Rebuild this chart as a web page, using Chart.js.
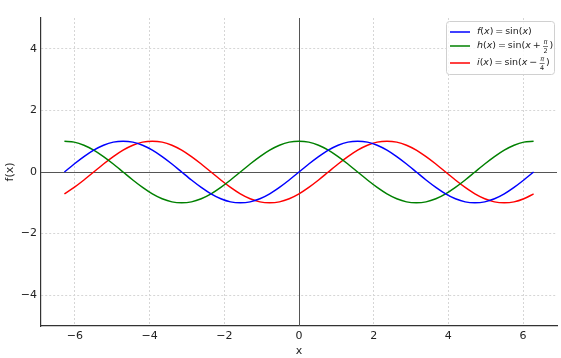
<!DOCTYPE html>
<html>
<head>
<meta charset="utf-8">
<script src="https://cdn.jsdelivr.net/npm/chart.js@4"></script>
<style>
  html, body { margin: 0; padding: 0; background: #fff; }
  #wrap { width: 561px; height: 358px; }
</style>
</head>
<body>
<div id="wrap"><canvas id="sineChart"></canvas></div>
<script>
// x positions: -2π .. 2π in steps of π/12
const xValues = [
  -6.283, -6.021, -5.760, -5.498, -5.236, -4.974, -4.712, -4.451, -4.189, -3.927, -3.665, -3.403,
  -3.142, -2.880, -2.618, -2.356, -2.094, -1.833, -1.571, -1.309, -1.047, -0.785, -0.524, -0.262,
  0, 0.262, 0.524, 0.785, 1.047, 1.309, 1.571, 1.833, 2.094, 2.356, 2.618, 2.880,
  3.142, 3.403, 3.665, 3.927, 4.189, 4.451, 4.712, 4.974, 5.236, 5.498, 5.760, 6.021, 6.283
];

const fValues = [
  0, 0.26, 0.5, 0.71, 0.87, 0.97, 1, 0.97, 0.87, 0.71, 0.5, 0.26,
  0, -0.26, -0.5, -0.71, -0.87, -0.97, -1, -0.97, -0.87, -0.71, -0.5, -0.26,
  0, 0.26, 0.5, 0.71, 0.87, 0.97, 1, 0.97, 0.87, 0.71, 0.5, 0.26,
  0, -0.26, -0.5, -0.71, -0.87, -0.97, -1, -0.97, -0.87, -0.71, -0.5, -0.26,
  0
];

const hValues = [
  1, 0.97, 0.87, 0.71, 0.5, 0.26, 0, -0.26, -0.5, -0.71, -0.87, -0.97,
  -1, -0.97, -0.87, -0.71, -0.5, -0.26, 0, 0.26, 0.5, 0.71, 0.87, 0.97,
  1, 0.97, 0.87, 0.71, 0.5, 0.26, 0, -0.26, -0.5, -0.71, -0.87, -0.97,
  -1, -0.97, -0.87, -0.71, -0.5, -0.26, 0, 0.26, 0.5, 0.71, 0.87, 0.97,
  1
];

const iValues = [
  -0.71, -0.5, -0.26, 0, 0.26, 0.5, 0.71, 0.87, 0.97, 1, 0.97, 0.87,
  0.71, 0.5, 0.26, 0, -0.26, -0.5, -0.71, -0.87, -0.97, -1, -0.97, -0.87,
  -0.71, -0.5, -0.26, 0, 0.26, 0.5, 0.71, 0.87, 0.97, 1, 0.97, 0.87,
  0.71, 0.5, 0.26, 0, -0.26, -0.5, -0.71, -0.87, -0.97, -1, -0.97, -0.87,
  -0.71
];

const xTicks = [-6, -4, -2, 0, 2, 4, 6];
const yTicks = [-4, -2, 0, 2, 4];

const seriesNames = ['f(x)', 'h(x)', 'i(x)'];
const seriesColors = ['#0000ff', '#008000', '#ff0000'];

const FONT = '"DejaVu Sans", sans-serif';
const TS = '\u2009'; // thin space, mathtext-like

function toPoints(ys) {
    return xValues.map((x, i) => ({ x: x, y: ys[i] }));
}

// gray x=0 / y=0 reference lines
const zeroLines = {
    id: 'zeroLines',
    beforeDatasetsDraw(chart) {
        const { ctx, chartArea, scales } = chart;
        const x0 = Math.round(scales.x.getPixelForValue(0)) + 0.5;
        const y0 = Math.round(scales.y.getPixelForValue(0)) + 0.5;
        ctx.save();
        ctx.strokeStyle = '#555';
        ctx.lineWidth = 1;
        ctx.beginPath();
        ctx.moveTo(x0, chartArea.top);
        ctx.lineTo(x0, chartArea.bottom);
        ctx.moveTo(chartArea.left, y0);
        ctx.lineTo(chartArea.right, y0);
        ctx.stroke();
        ctx.restore();
    }
};

// matplotlib-like legend with fractions
const mathLegend = {
    id: 'mathLegend',
    afterDraw(chart) {
        const ctx = chart.ctx;
        const bx = 446, by = 21, bw = 108, bh = 53;
        ctx.save();
        ctx.fillStyle = 'rgba(255,255,255,0.85)';
        ctx.strokeStyle = '#d0d0d0';
        ctx.lineWidth = 1;
        ctx.beginPath();
        ctx.roundRect(bx + 0.5, by + 0.5, bw, bh, 3);
        ctx.fill();
        ctx.stroke();

        const rows = [32, 46, 63];
        const ops = [null, '+', '\u2212'];
        const fracs = [null, '2', '4'];
        rows.forEach((ry, i) => {
            ctx.strokeStyle = seriesColors[i];
            ctx.lineWidth = 1.5;
            ctx.beginPath();
            ctx.moveTo(450, ry);
            ctx.lineTo(470, ry);
            ctx.stroke();

            ctx.fillStyle = '#222';
            ctx.textBaseline = 'middle';
            let cx = 477;
            const put = (txt, italic) => {
                ctx.font = (italic ? 'italic ' : '') + '9.5px ' + FONT;
                ctx.fillText(txt, cx, ry);
                cx += ctx.measureText(txt).width;
            };
            put(seriesNames[i][0], true);
            put('(', false);
            put('x', true);
            put(')' + TS + '=' + TS + 'sin(', false);
            put('x', true);
            if (fracs[i]) {
                put(TS + ops[i] + TS, false);
                ctx.textAlign = 'center';
                ctx.font = 'italic 6.5px ' + FONT;
                ctx.fillText('\u03c0', cx + 3, ry - 4);
                ctx.font = '6.5px ' + FONT;
                ctx.fillText(fracs[i], cx + 3, ry + 5);
                ctx.strokeStyle = '#222';
                ctx.lineWidth = 0.6;
                ctx.beginPath();
                ctx.moveTo(cx + 0.5, ry + 0.5);
                ctx.lineTo(cx + 5.5, ry + 0.5);
                ctx.stroke();
                ctx.textAlign = 'left';
                cx += 7;
            }
            put(')', false);
        });
        ctx.restore();
    }
};

new Chart(document.getElementById('sineChart'), {
    type: 'line',
    data: {
        datasets: [fValues, hValues, iValues].map((ys, i) => ({
            label: seriesNames[i],
            data: toPoints(ys),
            borderColor: seriesColors[i],
            backgroundColor: seriesColors[i],
            borderWidth: 1.5,
            pointRadius: 0,
            tension: 0.3,
            fill: false
        }))
    },
    options: {
        responsive: true,
        maintainAspectRatio: false,
        animation: false,
        layout: { padding: { top: 18, right: 4, left: 0, bottom: 0 } },
        plugins: {
            legend: { display: false },
            tooltip: { enabled: false }
        },
        scales: {
            x: {
                type: 'linear',
                min: -6.91,
                max: 6.91,
                afterBuildTicks: s => { s.ticks = xTicks.map(v => ({ value: v })); },
                afterFit: s => { s.height = 32; },
                ticks: {
                    color: '#222',
                    font: { family: FONT, size: 11 },
                    padding: 4,
                    maxRotation: 0,
                    callback: v => String(v).replace('-', '\u2212')
                },
                grid: { color: '#d6d6d6', drawTicks: false },
                border: { display: true, color: '#333', width: 1.2, dash: [2, 2] },
                title: { display: true, text: 'x', color: '#222', font: { family: FONT, size: 11 }, padding: { top: 1, bottom: 0 } }
            },
            y: {
                min: -5,
                max: 5,
                afterBuildTicks: s => { s.ticks = yTicks.map(v => ({ value: v })); },
                afterFit: s => { s.width = 41; },
                ticks: {
                    color: '#222',
                    font: { family: FONT, size: 11 },
                    padding: 4,
                    callback: v => String(v).replace('-', '\u2212')
                },
                grid: { color: '#d6d6d6', drawTicks: false },
                border: { display: true, color: '#333', width: 1.2, dash: [2, 2] },
                title: { display: true, text: 'f(x)', color: '#222', font: { family: FONT, size: 11 }, padding: { top: 4, bottom: 0 } }
            }
        }
    },
    plugins: [zeroLines, mathLegend]
});
</script>
</body>
</html>
